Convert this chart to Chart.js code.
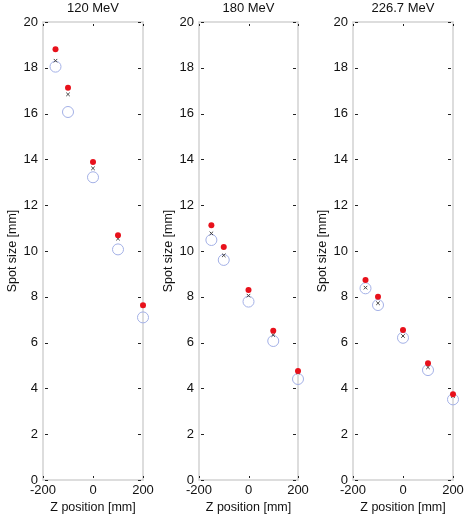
<!DOCTYPE html>
<html>
<head>
<meta charset="utf-8">
<script src="https://cdn.jsdelivr.net/npm/chart.js@4"></script>
<style>
  body { margin: 0; background: #fff; }
  canvas { position: absolute; top: 0; }
</style>
</head>
<body>
<canvas id="p120" style="left:0px"></canvas>
<canvas id="p180" style="left:156px"></canvas>
<canvas id="p227" style="left:310px"></canvas>
<script>
const zPos = [-150, -100, 0, 100, 200]
const xTicks = [-200, 0, 200]

// 120 MeV
const measured120 = [18.81, 17.13, 13.89, 10.69, 7.63]
const cross120 = [18.31, 16.84, 13.61, 10.54, 7.62]
const circle120 = [18.05, 16.07, 13.22, 10.07, 7.10]
// 180 MeV
const measured180 = [11.12, 10.17, 8.30, 6.52, 4.76]
const cross180 = [10.77, 9.81, 8.05, 6.33, 4.70]
const circle180 = [10.48, 9.61, 7.79, 6.07, 4.41]
// 226.7 MeV
const measured227 = [8.73, 8.00, 6.55, 5.10, 3.74]
const cross227 = [8.40, 7.72, 6.29, 4.92, 3.67]
const circle227 = [8.37, 7.64, 6.21, 4.80, 3.52]

const font = 'Liberation Sans, Arial, sans-serif'

// box, inward ticks and panel title
const decor = {
  id: 'decor',
  beforeDatasetsDraw(chart) {
    const { ctx, chartArea: a } = chart
    ctx.save()
    ctx.strokeStyle = '#d2d2d2'
    ctx.lineWidth = 1.5
    ctx.strokeRect(a.left, a.top, a.right - a.left, a.bottom - a.top)
    ctx.restore()
  },
  afterDraw(chart, args, opts) {
    const { ctx, chartArea: a, scales: { x, y } } = chart
    ctx.save()
    ctx.strokeStyle = '#222'
    ctx.lineWidth = 1
    ctx.beginPath()
    y.ticks.forEach(t => {
      const py = Math.round(y.getPixelForValue(t.value)) + 0.5
      ctx.moveTo(a.left + 2, py); ctx.lineTo(a.left + 5, py)
      ctx.moveTo(a.right - 5, py); ctx.lineTo(a.right - 2, py)
    })
    x.ticks.forEach(t => {
      const px = Math.round(x.getPixelForValue(t.value)) + 0.5
      ctx.moveTo(px, a.top + 2); ctx.lineTo(px, a.top + 4)
      ctx.moveTo(px, a.bottom - 4); ctx.lineTo(px, a.bottom - 2)
    })
    ctx.stroke()
    ctx.fillStyle = '#111'
    ctx.font = '13px ' + font
    ctx.textAlign = 'center'
    ctx.textBaseline = 'middle'
    ctx.fillText(opts.text, (a.left + a.right) / 2, 8)
    ctx.restore()
  }
}

function makePanel(id, width, padRight, title, red, cross, circle) {
  const el = document.getElementById(id)
  el.width = width
  el.height = 523
  new Chart(el.getContext('2d'), {
    type: 'scatter',
    data: {
      datasets: [
        {
          label: 'measured',
          data: zPos.map((z, i) => ({ x: z, y: red[i] })),
          pointStyle: 'circle',
          pointRadius: 3,
          backgroundColor: '#e8111b',
          borderColor: '#e8111b',
          borderWidth: 0,
          clip: false
        },
        {
          label: 'model',
          data: zPos.map((z, i) => ({ x: z, y: cross[i] })),
          pointStyle: 'crossRot',
          pointRadius: 2.5,
          borderColor: '#444',
          borderWidth: 1,
          clip: false
        },
        {
          label: 'simulation',
          data: zPos.map((z, i) => ({ x: z, y: circle[i] })),
          pointStyle: 'circle',
          pointRadius: 5.5,
          backgroundColor: 'rgba(0,0,0,0)',
          borderColor: '#a3b0e6',
          borderWidth: 1,
          clip: false
        }
      ]
    },
    options: {
      responsive: false,
      animation: false,
      layout: { padding: { top: 22, right: padRight, left: 0, bottom: 0 } },
      plugins: {
        legend: { display: false },
        tooltip: { enabled: false },
        decor: { text: title }
      },
      scales: {
        x: {
          type: 'linear',
          min: -200,
          max: 200,
          afterBuildTicks: s => { s.ticks = xTicks.map(v => ({ value: v })) },
          afterFit: s => { s.height = 43; s.paddingLeft = 0; s.paddingRight = 0 },
          grid: { display: false, drawTicks: false },
          border: { display: false },
          ticks: { padding: 3, color: '#111', font: { family: font, size: 13 }, maxRotation: 0 },
          title: {
            display: true,
            text: 'Z position [mm]',
            color: '#111',
            font: { family: font, size: 12.5 },
            padding: { top: 2, bottom: 8 }
          }
        },
        y: {
          min: 0,
          max: 20,
          afterFit: s => { s.width = 43; s.paddingTop = 0; s.paddingBottom = 0 },
          grid: { display: false, drawTicks: false },
          border: { display: false },
          ticks: { stepSize: 2, padding: 5, color: '#111', font: { family: font, size: 13 } },
          title: {
            display: true,
            text: 'Spot size [mm]',
            color: '#111',
            font: { family: font, size: 12.5 },
            padding: { top: 5, bottom: 2 }
          }
        }
      }
    },
    plugins: [decor]
  })
}

makePanel('p120', 156, 13, '120 MeV', measured120, cross120, circle120)
makePanel('p180', 154, 12, '180 MeV', measured180, cross180, circle180)
makePanel('p227', 164, 21, '226.7 MeV', measured227, cross227, circle227)
</script>
</body>
</html>
